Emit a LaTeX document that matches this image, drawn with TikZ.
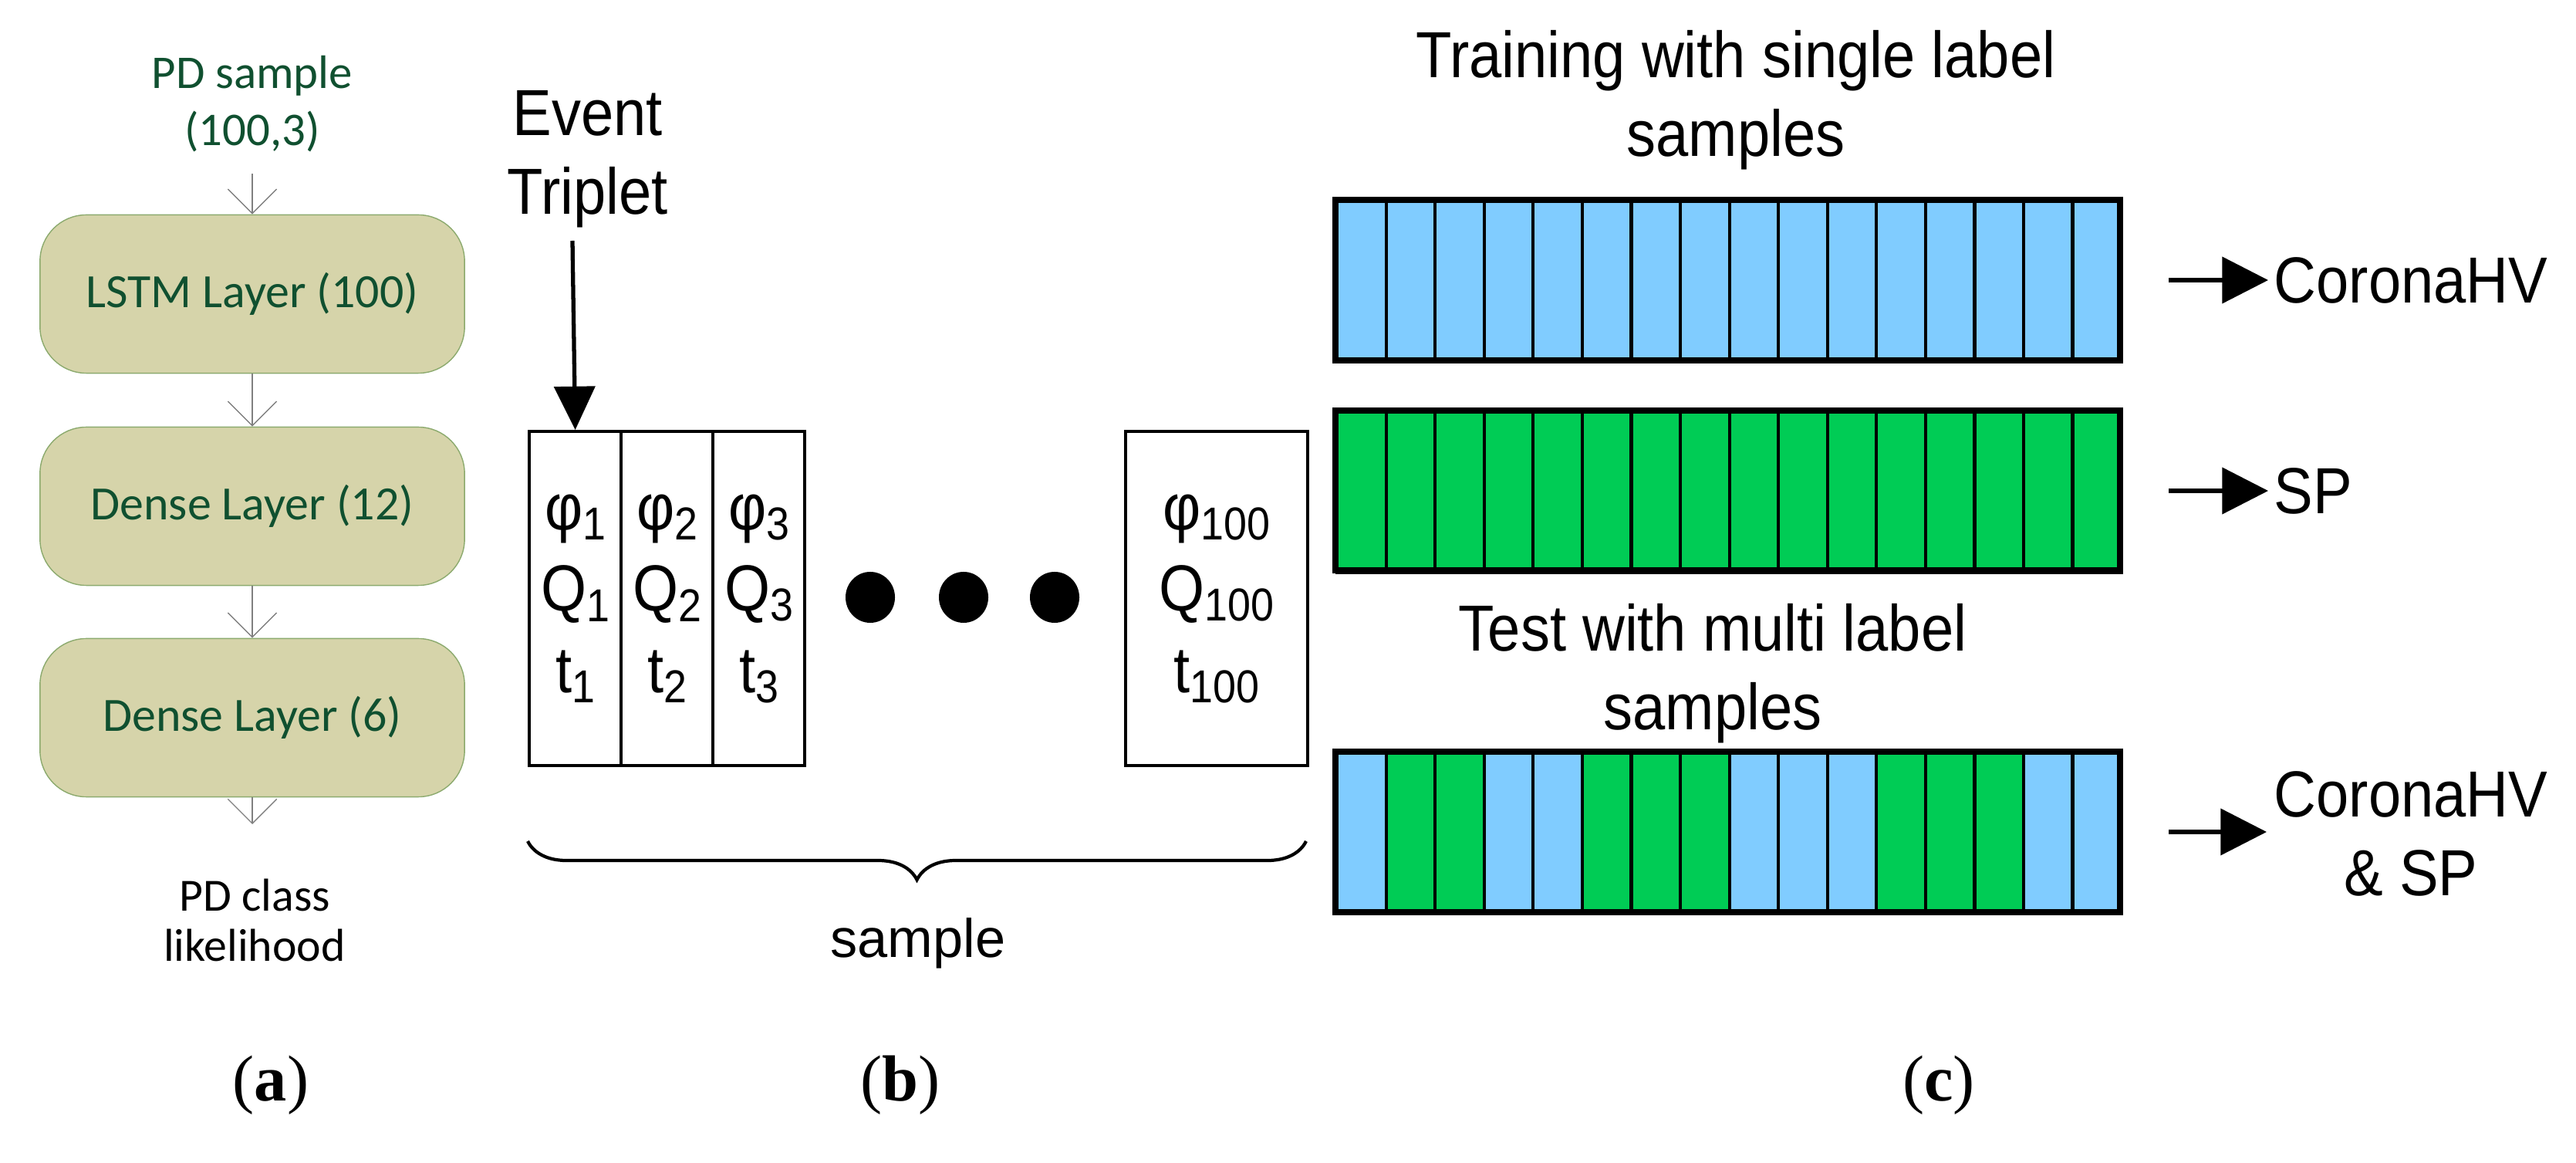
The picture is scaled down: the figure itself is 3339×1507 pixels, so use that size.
\documentclass[tikz,border=0pt]{standalone}
\usepackage{fontspec}
\setmainfont{Liberation Serif}
\newfontfamily\ar{Liberation Sans}
\newfontfamily\arn{Liberation Sans}[FakeStretch=0.9]
\newfontfamily\calf{Carlito}
\usetikzlibrary{decorations.pathreplacing,arrows.meta}
\definecolor{dgreen}{RGB}{16,80,48}
\definecolor{boxfill}{RGB}{214,212,170}
\definecolor{boxline}{RGB}{140,170,110}
\definecolor{lblue}{RGB}{128,204,255}
\definecolor{bgreen}{RGB}{0,204,85}
\newcommand{\sbs}[1]{\raisebox{-0.3ex}{\fontsize{17}{17}\selectfont #1}}
\begin{document}
\begin{tikzpicture}[x=0.01cm,y=-0.01cm,
 layer/.style={draw=boxline,fill=boxfill,rounded corners=0.6cm,minimum width=5.5cm,minimum height=2.05cm,font=\calf\fontsize{17.6}{20}\selectfont,text=dgreen},
 thin arr/.style={draw=gray,-{Straight Barb[length=9pt,width=18pt]}},
 cell/.style={draw=black,line width=1.2pt,minimum width=0.6375cm,minimum height=2.08cm,inner sep=0,anchor=north west},
 trip/.style={draw=black,line width=1.2pt,inner sep=0,anchor=north west,minimum height=4.33cm,font=\arn\fontsize{24}{30}\selectfont,align=center},
 big/.style={font=\arn\fontsize{24}{29}\selectfont,align=center},
 lab/.style={font=\fontsize{24}{28}\selectfont},
 bk/.style={-{Triangle[length=16pt,width=15pt]},line width=1.5pt},
 bk2/.style={-{Triangle[length=17pt,width=17pt]},line width=1.5pt}]
\useasboundingbox (0,0) rectangle (3339,1507);
% (a)
\node[font=\calf\fontsize{17.3}{21}\selectfont,text=dgreen,align=center] (in) at (327,135) {PD sample\\(100,3)};
\node[layer] (l1) at (327,381) {LSTM Layer (100)};
\node[layer] (l2) at (327,656) {Dense Layer (12)};
\node[layer] (l3) at (327,930) {Dense Layer (6)};
\node[font=\calf\fontsize{17}{18.5}\selectfont,align=center] (out) at (330,1192) {PD class\\likelihood};
\coordinate (a0) at (327,225);
\coordinate (a4) at (327,1068);
\draw[thin arr] (a0) -- (l1.north);
\draw[thin arr] (l1) -- (l2);
\draw[thin arr] (l2) -- (l3);
\draw[thin arr] (l3.south) -- (a4);
% (b)
\node[big,anchor=north west] (ev) at (645,105) {Event\\Triplet};
\node[trip,minimum width=1.19cm] (c1) at (684,557) {φ\sbs{1}\\Q\sbs{1}\\t\sbs{1}};
\node[trip,minimum width=1.19cm] (c2) at (803,557) {φ\sbs{2}\\Q\sbs{2}\\t\sbs{2}};
\node[trip,minimum width=1.19cm] (c3) at (922,557) {φ\sbs{3}\\Q\sbs{3}\\t\sbs{3}};
\node[trip,minimum width=2.36cm] (c100) at (1457,557) {φ\sbs{100}\\Q\sbs{100}\\t\sbs{100}};
\foreach \x/\n in {1128/d1,1249/d2,1367/d3} \fill (\x,774) ellipse (0.32cm and 0.33cm);
\coordinate (evs) at (742,312);
\draw[bk] (evs) -- (c1.north);
\draw[line width=1.2pt,decorate,decoration={brace,mirror,amplitude=0.5cm}] (684,1090) -- (1693,1090);
\node[font=\ar\fontsize{20}{24}\selectfont] (smp) at (1190,1222) {sample};
% (c)
\node[big] (t1) at (2250,130) {Training with single label\\samples};
\node[big] (t2) at (2220,873) {Test with multi label\\samples};
\foreach \i in {0,...,15} {
 \node[cell,fill=lblue] (r1c\i) at ({1731+63.56*\i},259) {};
 \node[cell,fill=bgreen] (r2c\i) at ({1731+63.56*\i},532) {};
}
\foreach \c [count=\i from 0] in {lblue,bgreen,bgreen,lblue,lblue,bgreen,bgreen,bgreen,lblue,lblue,lblue,bgreen,bgreen,bgreen,lblue,lblue}
 \node[cell,fill=\c] (r3c\i) at ({1731+63.56*\i},974) {};
\draw[line width=2.4pt] (1731,259) rectangle (2748,467) (1731,532) rectangle (2748,739) (1731,974) rectangle (2748,1182);
\node[big,anchor=west,inner sep=2pt] (o1) at (2940,363) {CoronaHV};
\node[big,anchor=west,inner sep=2pt] (o2) at (2940,636) {SP};
\node[big,anchor=west,inner sep=2pt] (o3) at (2940,1080) {CoronaHV\\\& SP};
\coordinate (s1) at (2811,363);
\coordinate (s2) at (2811,636);
\coordinate (s3) at (2811,1078);
\coordinate (e3) at (2938,1078);
\draw[bk2] (s1) -- (o1.west);
\draw[bk2] (s2) -- (o2.west);
\draw[bk2] (s3) -- (e3);
% labels
\node[lab] (la) at (351,1406) {(\textbf{a})};
\node[lab] (lb) at (1167,1406) {(\textbf{b})};
\node[lab] (lc) at (2513,1406) {(\textbf{c})};
\end{tikzpicture}
\end{document}
